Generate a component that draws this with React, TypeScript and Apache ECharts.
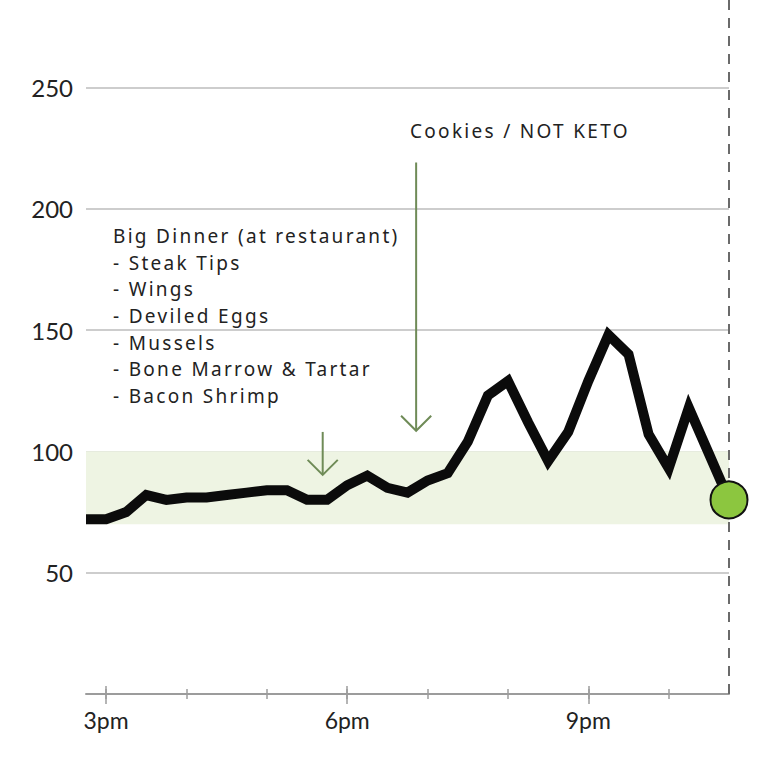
import React, { useEffect, useRef } from 'react';
import * as echarts from 'echarts';

// readings every 15 minutes
const times = [
  '2:45pm', '3pm', '3:15pm', '3:30pm', '3:45pm', '4pm', '4:15pm', '4:30pm', '4:45pm',
  '5pm', '5:15pm', '5:30pm', '5:45pm', '6pm', '6:15pm', '6:30pm', '6:45pm',
  '7pm', '7:15pm', '7:30pm', '7:45pm', '8pm', '8:15pm', '8:30pm', '8:45pm',
  '9pm', '9:15pm', '9:30pm', '9:45pm', '10pm', '10:15pm', '10:30pm', '10:45pm',
];
const glucose = [
  72, 72, 75, 82, 80, 81, 81, 82, 83,
  84, 84, 80, 80, 86, 90, 85, 83,
  88, 91, 104, 123, 129, 112, 96, 108,
  129, 148, 140, 107, 93, 118, 99, 80,
];
const labeledTimes = ['3pm', '6pm', '9pm'];
const yTicks = [50, 100, 150, 200, 250];
const targetRange = [70, 100];

const dinnerNote = [
  'Big Dinner (at restaurant)',
  '- Steak Tips',
  '- Wings',
  '- Deviled Eggs',
  '- Mussels',
  '- Bone Marrow & Tartar',
  '- Bacon Shrimp',
];
const cookieNote = 'Cookies / NOT KETO';

// arrows: [position in 15-min steps from 2:45pm, top value, tip value]
const arrows = [
  [11.78, 108, 90.3],
  [16.43, 219, 108.5],
];

const ARROW_GREEN = '#6f8b57';
const TEXT = '#222';
const NOTE_FONT = 'Noto Sans';

const css = `.keto-chart text[style*="${NOTE_FONT}"] { letter-spacing: 2.3px; }`;

const App: React.FC = () => {
  const chartRef = useRef<HTMLDivElement>(null);

  useEffect(() => {
    const chart = echarts.init(chartRef.current, null, { renderer: 'svg' });
    const last = times.length - 1;

    const arrowLines: any[] = [];
    arrows.forEach(([x, top, tip]) => {
      arrowLines.push({ coords: [[x, top], [x, tip]] });
      arrowLines.push({ coords: [[x - 0.75, tip + 6.2], [x, tip], [x + 0.75, tip + 6.2]] });
    });

    const tickAxis = (filter: (v: string) => boolean, inside: boolean, length: number, main = false) => ({
      type: 'category',
      data: times,
      boundaryGap: false,
      position: 'bottom',
      axisLine: main ? { show: true, lineStyle: { color: '#9c9c9c', width: 2 } } : { show: false },
      axisTick: {
        show: true,
        inside,
        length,
        interval: (_i: number, v: string) => filter(v),
        lineStyle: { color: '#9c9c9c', width: 1.5 },
      },
      axisLabel: main
        ? {
            show: true,
            interval: (_i: number, v: string) => labeledTimes.includes(v),
            color: TEXT,
            fontFamily: 'Lato',
            fontSize: 23,
            margin: 14,
          }
        : { show: false },
      splitLine: { show: false },
    });

    const option = {
      animation: false,
      backgroundColor: '#fff',
      grid: { left: 86, right: 39, top: 0, bottom: 74 },
      xAxis: [
        tickAxis(v => labeledTimes.includes(v), false, 10, true),
        tickAxis(v => labeledTimes.includes(v), true, 8),
        tickAxis(v => !v.includes(':'), false, 5),
        tickAxis(v => !v.includes(':'), true, 5),
        { type: 'value', min: 0, max: last, show: false },
      ],
      yAxis: {
        type: 'value',
        min: 0,
        max: 286,
        interval: 50,
        axisLine: { show: false },
        axisTick: { show: false },
        axisLabel: {
          color: TEXT,
          fontFamily: 'Lato',
          fontSize: 24,
          margin: 13,
          showMaxLabel: false,
          formatter: (v: number) => (yTicks.includes(v) ? String(v) : ''),
        },
        splitLine: {
          show: true,
          showMinLine: false,
          showMaxLine: false,
          lineStyle: { color: '#bdbdbd', width: 1.5 },
        },
      },
      series: [
        {
          // target band, kept beneath the grid lines
          type: 'line',
          xAxisIndex: 0,
          data: [],
          z: -1,
          markArea: {
            silent: true,
            itemStyle: { color: '#eef4e3' },
            data: [[{ yAxis: targetRange[0] }, { yAxis: targetRange[1] }]],
          },
        },
        {
          type: 'line',
          xAxisIndex: 0,
          data: glucose,
          showSymbol: false,
          symbol: 'none',
          lineStyle: { color: '#0b0b0b', width: 10, join: 'miter', miterLimit: 4, cap: 'butt' },
          z: 3,
          markLine: {
            silent: true,
            symbol: ['none', 'none'],
            label: { show: false },
            lineStyle: { color: '#6a6a6a', width: 2, type: [10, 8] },
            data: [{ xAxis: times[last] }],
          },
        },
        {
          type: 'lines',
          coordinateSystem: 'cartesian2d',
          xAxisIndex: 4,
          yAxisIndex: 0,
          polyline: true,
          silent: true,
          lineStyle: { color: ARROW_GREEN, width: 2, opacity: 1, curveness: 0 },
          data: arrowLines,
          z: 2,
        },
        {
          type: 'scatter',
          xAxisIndex: 0,
          data: [[times[last], glucose[last]]],
          symbolSize: 37,
          itemStyle: { color: '#8cc63f', borderColor: '#111', borderWidth: 2, opacity: 1 },
          z: 5,
        },
      ],
      graphic: [
        {
          type: 'text',
          x: 410,
          y: 131,
          style: {
            text: cookieNote,
            fill: TEXT,
            fontFamily: NOTE_FONT,
            fontSize: 19,
            verticalAlign: 'middle',
          },
        },
        {
          type: 'text',
          x: 113,
          y: 222.6,
          style: {
            text: dinnerNote.join('\n'),
            fill: TEXT,
            fontFamily: NOTE_FONT,
            fontSize: 19,
            lineHeight: 26.7,
            verticalAlign: 'top',
          },
        },
      ],
    };

    chart.setOption(option as any);

    return () => {
      chart.dispose();
    };
  }, []);

  return (
    <>
      <style>{css}</style>
      <div
        ref={chartRef}
        className="keto-chart"
        style={{ position: 'fixed', left: 0, top: 0, width: '768px', height: '768px' }}
      />
    </>
  );
};

export default App;
